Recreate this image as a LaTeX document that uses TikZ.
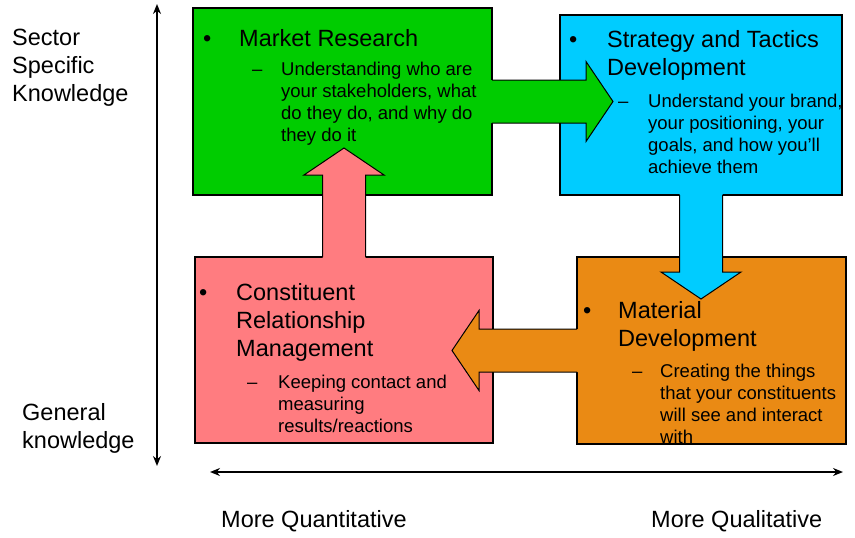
\documentclass[tikz,border=0pt]{standalone}
\usepackage{fontspec}
\setmainfont{Liberation Sans}
\usetikzlibrary{arrows.meta}
\definecolor{verde}{RGB}{0,204,0}
\definecolor{ciano}{RGB}{0,204,255}
\definecolor{rosa}{RGB}{255,124,128}
\definecolor{arancio}{RGB}{234,138,20}

\begin{document}
\begin{tikzpicture}[x=1pt, y=-1pt,
	riquadro/.style={draw=black, line width=1.6pt, inner sep=0pt, outer sep=0pt, anchor=north west},
	contorno/.style={line width=1.0pt, black, line join=miter},
	asse/.style={{Stealth[length=10pt,width=8pt]}-{Stealth[length=10pt,width=8pt]}, line width=2pt, black},
	tit/.style={font=\fontsize{23.5}{28}\selectfont, inner sep=0pt, anchor=north west, align=left},
	voce/.style={font=\fontsize{18.5}{22}\selectfont, inner sep=0pt, anchor=north west, align=left},
	lab/.style={font=\fontsize{23.5}{28}\selectfont, inner sep=0pt, align=left},
	pallino/.style={font=\fontsize{23.5}{28}\selectfont, inner sep=0pt, anchor=base west},
	trattino/.style={font=\fontsize{18.5}{22}\selectfont, inner sep=0pt, anchor=base west},
	]
	
	\def\sw{21.5}   % semi-larghezza del fusto
	\def\hw{40}     % semi-larghezza della punta
	\def\hl{27}     % lunghezza della punta
	
	\useasboundingbox (0,0) rectangle (855,538);
	
	%%═══ RIQUADRI ══════════════════════════════════════════
	\node[riquadro, fill=verde,   minimum width=299pt, minimum height=187pt] (ricerca)   at (193,8)   {};
	\node[riquadro, fill=ciano,   minimum width=282pt, minimum height=180pt] (strategia) at (560,15)  {};
	\node[riquadro, fill=rosa,    minimum width=298pt, minimum height=186pt] (relazioni) at (195,257) {};
	\node[riquadro, fill=arancio, minimum width=269pt, minimum height=187pt] (materiale) at (577,257) {};
	
	%%═══ FRECCE (dal lato del riquadro, sopra il riquadro seguente) ═══
	\foreach \da/\ang/\L/\col in {ricerca.east/0/121/verde, relazioni.north/90/109/rosa,
		strategia.south/-90/104/ciano, materiale.west/180/125/arancio}{
		\begin{scope}[shift={(\da)}, rotate=\ang]
			\fill[\col] (-3,-\sw) -- ({\L-\hl},-\sw) -- ({\L-\hl},-\hw) -- (\L,0)
				-- ({\L-\hl},\hw) -- ({\L-\hl},\sw) -- (-3,\sw) -- cycle;
			\draw[contorno] (0,-\sw) -- ({\L-\hl},-\sw) -- ({\L-\hl},-\hw) -- (\L,0)
				-- ({\L-\hl},\hw) -- ({\L-\hl},\sw) -- (0,\sw);
		\end{scope}
	}
	
	%%═══ TESTI DEI RIQUADRI ═════════════════════════════════
	% ricerca di mercato
	\node[pallino]  (ricB) at (203,46)   {•};
	\node[tit]      (ricT) at (239,26.4) {\strut Market Research};
	\node[trattino] (ricD) at (252,75)   {–};
	\node[voce]     (ricV) at (281,59.6) {\strut Understanding who are\\your stakeholders, what\\do they do, and why do\\they do it};
	% strategia e tattiche
	\node[pallino]  (strB) at (569,47)   {•};
	\node[tit]      (strT) at (607,27.4) {\strut Strategy and Tactics\\Development};
	\node[trattino] (strD) at (618,107)  {–};
	\node[voce]     (strV) at (648,91.6) {\strut Understand your brand,\\your positioning, your\\goals, and how you’ll\\achieve them};
	% gestione delle relazioni
	\node[pallino]  (relB) at (199,300)   {•};
	\node[tit]      (relT) at (236,280.4) {\strut Constituent\\Relationship\\Management};
	\node[trattino] (relD) at (247,388)   {–};
	\node[voce]     (relV) at (278,372.6) {\strut Keeping contact and\\measuring\\results/reactions};
	% sviluppo dei materiali
	\node[pallino]  (matB) at (583,318)   {•};
	\node[tit]      (matT) at (618,298.4) {\strut Material\\Development};
	\node[trattino] (matD) at (632,377)   {–};
	\node[voce]     (matV) at (660,361.6) {\strut Creating the things\\that your constituents\\will see and interact\\with};
	
	%%═══ ASSI ══════════════════════════════════════════════
	\coordinate (yAlto)  at (157,4);
	\coordinate (yBasso) at (157,466);
	\coordinate (xSin)   at (210,472);
	\coordinate (xDes)   at (843,472);
	\draw[asse] (yBasso) -- (yAlto);
	\draw[asse] (xSin) -- (xDes);
	
	\node[lab, anchor=north west] (settore)  at (12,25.4)  {\strut Sector\\Specific\\Knowledge};
	\node[lab, anchor=north west] (generale) at (22,400.4) {\strut General\\knowledge};
	\node[lab, anchor=base west]  (quant)    at (221,527)  {More Quantitative};
	\node[lab, anchor=base west]  (qual)     at (651,527)  {More Qualitative};
	
\end{tikzpicture}
\end{document}
